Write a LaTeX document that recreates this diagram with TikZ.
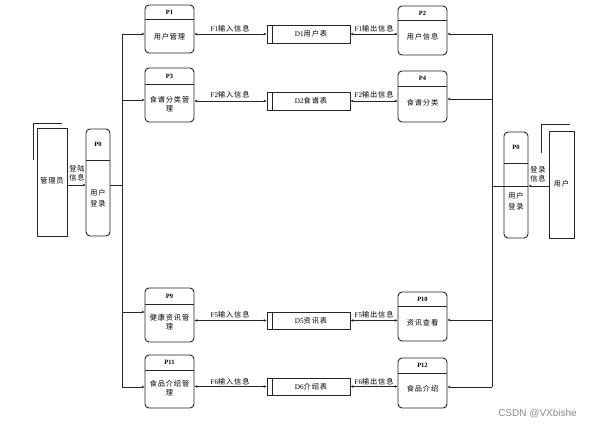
\documentclass[tikz,border=0pt]{standalone}
\usepackage{fontspec}
\setmainfont{Liberation Serif}
\setsansfont{Liberation Sans}
\newfontfamily\cjk[LetterSpace=12]{Noto Sans CJK SC}
\usetikzlibrary{fit,arrows.meta}
\newcommand\zh[1]{{\cjk #1}}
\tikzset{
  ln/.style={draw=black!85, line width=0.9pt},
  arr/.style={ln, -{Stealth[length=3pt,width=2.6pt]}},
  darr/.style={ln, {Stealth[length=3pt,width=2.6pt]}-{Stealth[length=3pt,width=2.6pt]}},
  procbox/.style={ln, rounded corners=4pt, inner sep=0pt},
  storebox/.style={ln, inner sep=0pt},
  extbox/.style={ln, inner sep=0pt},
  txt/.style={font=\fontsize{7.2}{9}\selectfont, inner sep=0pt, align=center, text=black},
  hdr/.style={font=\bfseries\fontsize{6.5}{8}\selectfont, inner sep=0pt, text=black},
}
\newcommand\proc[9]{%
  \node[procbox, fit={(#2,#3) (#4,#5)}] (#1) {};
  \draw[ln] (#2,#6) -- (#4,#6);
  \node[hdr] (#1l) at ({(#2+#4)/2},{(#3+#6)/2}) {#7};
  \node[txt] (#1t) at ({(#2+#4)/2},#9) {#8};
}
\newcommand\store[5]{%
  \node[storebox, fit={(267,#2) (350,#3)}] (#1) {};
  \draw[ln] (272,#2) -- (272,#3);
  \node[txt] (#1t) at (311,{(#2+#3)/2}) {#4\zh{#5}};
}
\begin{document}
\begin{tikzpicture}[x=1pt,y=-1pt]
\useasboundingbox (0,0) rectangle (599,428);
\fill[white] (0,0) rectangle (599,428);

% processes
\proc{P1}{145}{5}{194}{53}{19}{P1}{\zh{用户管理}}{37}
\proc{P2}{398}{6}{447}{55}{20}{P2}{\zh{用户信息}}{37}
\proc{P3}{145}{68}{194}{122}{84}{P3}{\zh{食谱分类管}\\\zh{理}}{104}
\proc{P4}{398}{71}{447}{122}{86}{P4}{\zh{食谱分类}}{103}
\proc{P9}{145}{288}{194}{342}{304}{P9}{\zh{健康资讯管}\\\zh{理}}{322}
\proc{P10}{398}{292}{447}{341}{306}{P10}{\zh{资讯查看}}{323}
\proc{P11}{145}{355}{194}{408}{370}{P11}{\zh{食品介绍管}\\\zh{理}}{388}
\proc{P12}{398}{358}{447}{408}{373}{P12}{\zh{食品介绍}}{389}
\proc{P0L}{86}{129}{110}{236}{160}{P0}{\zh{用户}\\[2pt]\zh{登录}}{198}
\proc{P0R}{504}{132}{528}{238}{163}{P0}{\zh{用户}\\[2pt]\zh{登录}}{201}

% data stores
\store{D1}{25}{43}{D1}{用户表}
\store{D2}{92}{110}{D2}{食谱表}
\store{D5}{312}{329}{D5}{资讯表}
\store{D6}{378}{395}{D6}{介绍表}

% external entities
\node[extbox, fit={(37,128) (67,236)}] (ADM) {};
\draw[ln] (33,160) -- (33,123) -- (62,123);
\node[txt] (ADMt) at (52,181) {\zh{管理员}};
\node[extbox, fit={(549,131) (574,238)}] (USR) {};
\draw[ln] (541,153) -- (541,124) -- (570,124);
\node[txt] (USRt) at (561.5,184) {\zh{用户}};

% login flows
\coordinate (LM) at (122,185);
\coordinate (RM) at (492,186);
\draw[arr] (ADM.east |- LM) -- (LM -| P0L.west);
\node[txt] (lblL) at (77,173) {\zh{登陆}\\\zh{信息}};
\draw[ln] (LM -| P0L.east) -- (LM);
\draw[arr] (RM -| USR.west) -- (RM -| P0R.east);
\node[txt] (lblR) at (538,174) {\zh{登录}\\\zh{信息}};
\draw[ln] (RM) -- (RM -| P0R.east);

% left bus
\coordinate (L1) at (122,34);
\coordinate (L3) at (122,100);
\coordinate (L9) at (122,312);
\coordinate (L11) at (122,387);
\draw[ln] (L1) -- (L11);
\draw[arr] (L1) -- (L1 -| P1.west);
\draw[arr] (L3) -- (L3 -| P3.west);
\draw[arr] (L9) -- (L9 -| P9.west);
\draw[arr] (L11) -- (L11 -| P11.west);

% right bus
\coordinate (R2) at (492,34);
\coordinate (R4) at (492,99);
\coordinate (R10) at (492,320);
\coordinate (R12) at (492,387);
\draw[ln] (R2) -- (R12);
\draw[arr] (R2) -- (R2 -| P2.east);
\draw[arr] (R4) -- (R4 -| P4.east);
\draw[arr] (R10) -- (R10 -| P10.east);
\draw[arr] (R12) -- (R12 -| P12.east);

% data flows
\draw[darr] (D1.west -| P1.east) -- (D1.west);
\draw[darr] (D1.east) -- (D1.east -| P2.west);
\draw[darr] (D2.west -| P3.east) -- (D2.west);
\draw[darr] (D2.east) -- (D2.east -| P4.west);
\draw[darr] (D5.west -| P9.east) -- (D5.west);
\draw[darr] (D5.east) -- (D5.east -| P10.west);
\draw[darr] (D6.west -| P11.east) -- (D6.west);
\draw[darr] (D6.east) -- (D6.east -| P12.west);

\node[txt, anchor=south] (f1i) at (230,32) {F1\zh{输入信息}};
\node[txt, anchor=south] (f1o) at (374,32) {F1\zh{输出信息}};
\node[txt, anchor=south] (f2i) at (230,98) {F2\zh{输入信息}};
\node[txt, anchor=south] (f2o) at (374,98) {F2\zh{输出信息}};
\node[txt, anchor=south] (f5i) at (230,318) {F5\zh{输入信息}};
\node[txt, anchor=south] (f5o) at (374,318) {F5\zh{输出信息}};
\node[txt, anchor=south] (f6i) at (230,385) {F6\zh{输入信息}};
\node[txt, anchor=south] (f6o) at (374,385) {F6\zh{输出信息}};

% watermark
\node[font=\sffamily\fontsize{10}{11}\selectfont, text=black!45, inner sep=0pt] (wm) at (537.5,413.5) {CSDN @VXbishe};
\end{tikzpicture}
\end{document}
